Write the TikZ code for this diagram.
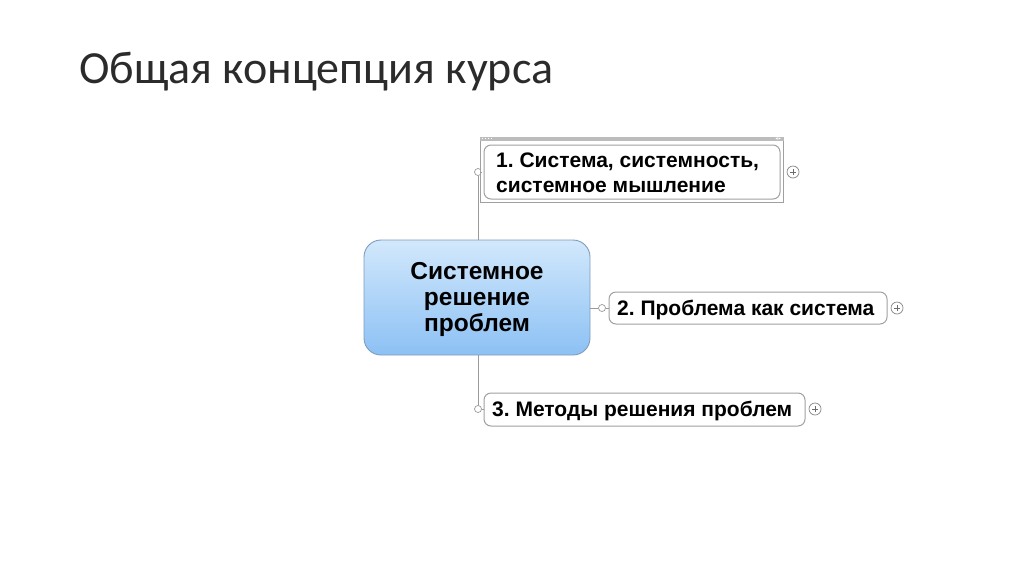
\documentclass[tikz,border=0pt]{standalone}
\usepackage{fontspec}
\setmainfont{Carlito}
\newfontfamily\boxfont{Liberation Sans}
\frenchspacing
\definecolor{titlegray}{HTML}{2B2B2B}
\definecolor{boxline}{HTML}{A0A0A0}
\definecolor{centline}{HTML}{7E9CBC}
\definecolor{ctop}{HTML}{D2E8FC}
\definecolor{cbot}{HTML}{8CC1F4}
\definecolor{linkgray}{HTML}{9A9A9A}
\tikzset{
  topicbox/.style={draw=boxline, line width=1pt, fill=white, rounded corners=7pt, inner sep=0pt},
  topictext/.style={font=\boxfont\bfseries\fontsize{21}{25}\selectfont, align=left, inner sep=0pt, text=black},
  knob/.style={circle, draw=linkgray, fill=white, line width=0.7pt, minimum size=7pt, inner sep=0pt},
  plusknob/.style={circle, draw=linkgray!85!black, fill=white, line width=0.7pt, minimum size=12pt, inner sep=0pt},
  link/.style={draw=linkgray, line width=0.9pt},
}
\begin{document}
\begin{tikzpicture}[x=1pt,y=-1pt]
\useasboundingbox (0,0) rectangle (1024,576);
% title
\node[anchor=base west, inner sep=0pt, text=titlegray, font=\fontsize{46}{52}\selectfont] (title) at (79,83) {Общая концепция курса};

% knob coordinates
\node[knob] (k1) at (478,172) {};
\node[knob] (k3) at (478,409) {};
\draw[link] (k1) -- (k3);

% central
\node[draw=centline, line width=0.9pt, rounded corners=17pt, top color=ctop, bottom color=cbot,
      minimum width=226pt, minimum height=115pt, inner sep=0pt] (central) at (477,297.5) {};
\node[font=\boxfont\bfseries\fontsize{24.5}{26}\selectfont, align=center, text=black, anchor=base] (ctext) at (477,331)
  {Системное\\решение\\проблем};

% topic 1 with frame
\node[draw=boxline, fill=white, line width=1pt, minimum width=303pt, minimum height=65pt, inner sep=0pt] (frame1) at (631.5,169.5) {};
\fill[boxline!70] (frame1.north west) rectangle ([yshift=-4pt]frame1.north east);
\foreach \dx in {3,6,9,12} \fill[white] ([xshift=\dx pt, yshift=-2pt]frame1.north west) circle (0.6pt);
\fill[white] ([xshift=-8pt, yshift=-2pt]frame1.north east) -- ++(2pt,-1.2pt) -- ++(0,2.4pt) -- cycle;
\fill[white] ([xshift=-3pt, yshift=-2pt]frame1.north east) -- ++(-2pt,-1.2pt) -- ++(0,2.4pt) -- cycle;
\node[topicbox, minimum width=296pt, minimum height=54pt] (t1) at (632,172) {};
\node[topictext, anchor=base west] (t1text) at (496,192) {1. Система, системность,\\системное мышление};

% topic 2
\node[topicbox, minimum width=278pt, minimum height=32pt] (t2) at (748,308) {};
\node[topictext, anchor=base west] (t2text) at (617,315) {2. Проблема как система};
\node[knob] (k2) at (602,308) {};

% topic 3
\node[topicbox, minimum width=321pt, minimum height=33pt] (t3) at (644.5,409.5) {};
\node[topictext, anchor=base west] (t3text) at (492,416) {3. Методы решения проблем};

% links
\draw[link] (central.east |- k2) -- (k2);
\draw[link] (k2) -- (t2.west |- k2);
\draw[link] (k1) -- (frame1.west |- k1);
\draw[link] (k3) -- (t3.west |- k3);

% plus knobs
\foreach \n/\x/\y in {p1/793/172, p2/897/308, p3/815/409} {
  \node[plusknob] (\n) at (\x,\y) {};
  \draw[linkgray!70!black, line width=0.7pt] ([xshift=-3pt]\n.center) -- ([xshift=3pt]\n.center);
  \draw[linkgray!70!black, line width=0.7pt] ([yshift=-3pt]\n.center) -- ([yshift=3pt]\n.center);
}
\end{tikzpicture}
\end{document}
